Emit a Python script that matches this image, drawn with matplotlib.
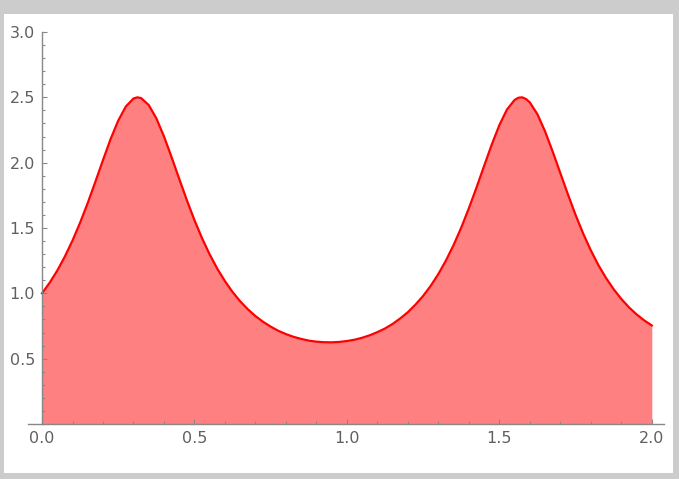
import matplotlib
matplotlib.use('Agg')
from matplotlib import pyplot as plt
from matplotlib.patches import Rectangle
from matplotlib.ticker import MultipleLocator, FixedLocator

# values (every 0.025 in x, plus the two peak tops)
xs = [0.000, 0.025, 0.050, 0.075, 0.100, 0.125, 0.150, 0.175, 0.200, 0.225,
      0.250, 0.275, 0.300, 0.3125, 0.325, 0.350, 0.375, 0.400, 0.425, 0.450,
      0.475, 0.500, 0.525, 0.550, 0.575, 0.600, 0.625, 0.650, 0.675, 0.700,
      0.725, 0.750, 0.775, 0.800, 0.825, 0.850, 0.875, 0.900, 0.925, 0.950,
      0.975, 1.000, 1.025, 1.050, 1.075, 1.100, 1.125, 1.150, 1.175, 1.200,
      1.225, 1.250, 1.275, 1.300, 1.325, 1.350, 1.375, 1.400, 1.425, 1.450,
      1.475, 1.500, 1.525, 1.550, 1.5625, 1.575, 1.5875, 1.600, 1.625, 1.650,
      1.675, 1.700, 1.725, 1.750, 1.775, 1.800, 1.825, 1.850, 1.875, 1.900,
      1.925, 1.950, 1.975, 2.000]
ys = [1.000, 1.081, 1.174, 1.282, 1.404, 1.541, 1.692, 1.854, 2.020, 2.181,
      2.322, 2.430, 2.491, 2.500, 2.494, 2.441, 2.339, 2.201, 2.042, 1.876,
      1.713, 1.560, 1.421, 1.297, 1.188, 1.093, 1.010, 0.939, 0.878, 0.826,
      0.782, 0.745, 0.713, 0.688, 0.667, 0.651, 0.638, 0.630, 0.626, 0.625,
      0.628, 0.635, 0.645, 0.660, 0.679, 0.703, 0.731, 0.766, 0.808, 0.856,
      0.914, 0.980, 1.058, 1.148, 1.252, 1.370, 1.503, 1.651, 1.809, 1.975,
      2.138, 2.287, 2.407, 2.480, 2.497, 2.500, 2.487, 2.461, 2.370, 2.239,
      2.084, 1.920, 1.757, 1.600, 1.457, 1.329, 1.215, 1.117, 1.031, 0.957,
      0.893, 0.839, 0.793, 0.754]
x_ticks = [0.0, 0.5, 1.0, 1.5, 2.0]
y_ticks = [0.5, 1.0, 1.5, 2.0, 2.5, 3.0]

W, H = 679, 479
fig = plt.figure(figsize=(W / 100, H / 100), dpi=100)
fig.patch.set_facecolor('#cccccc')
# white panel inside the gray frame
fig.patches.append(Rectangle((4 / W, 6 / H), 669 / W, 459 / H,
                             transform=fig.transFigure, facecolor='white',
                             edgecolor='none', zorder=-10))

ax = fig.add_axes([28 / W, 55 / H, 636 / W, 392 / H])
ax.set_facecolor('none')
ax.fill_between(xs, 0, ys, color='#ff8080', linewidth=0, zorder=1)
ax.plot(xs, ys, color='#ff0000', linewidth=1.6, zorder=2)

ax.set_xlim(-0.046, 2.04)
ax.set_ylim(0, 3.0)

for s in ['top', 'right']:
    ax.spines[s].set_visible(False)
ax.spines['left'].set_position(('data', 0))
for s in ['left', 'bottom']:
    ax.spines[s].set_color('#888888')
    ax.spines[s].set_linewidth(1.0)

ax.xaxis.set_major_locator(FixedLocator(x_ticks))
ax.yaxis.set_major_locator(FixedLocator(y_ticks))
ax.xaxis.set_minor_locator(MultipleLocator(0.1))
ax.yaxis.set_minor_locator(MultipleLocator(0.1))
ax.set_xticklabels(['%.1f' % v for v in x_ticks])
ax.set_yticklabels(['%.1f' % v for v in y_ticks])

ax.tick_params(which='both', direction='in', color='#888888', width=0.8)
ax.tick_params(which='major', length=3.5, labelsize=11.5, labelcolor='#606060', pad=5)
ax.tick_params(which='minor', length=2)

plt.savefig('out.png', dpi=100)
